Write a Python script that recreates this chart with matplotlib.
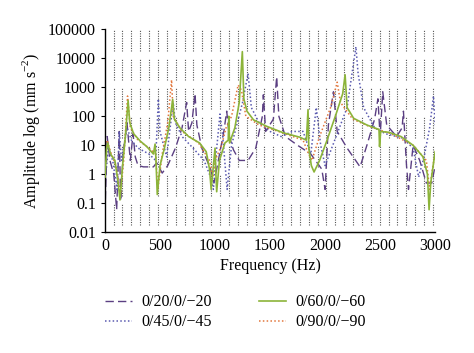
import numpy as np
import matplotlib
matplotlib.use("Agg")
import matplotlib.pyplot as plt

plt.rcParams['font.family'] = ['Liberation Serif', 'DejaVu Serif']
plt.rcParams['mathtext.fontset'] = 'custom'
plt.rcParams['mathtext.rm'] = 'Liberation Serif'

labels = ["0/20/0/\u221220", "0/45/0/\u221245", "0/60/0/\u221260", "0/90/0/\u221290"]

f20 = [0, 20, 45, 80, 106, 130, 142, 165, 200, 230, 255, 275, 300, 350, 440, 470, 520, 570, 640, 700,
       742, 760, 790, 818, 835, 880, 960, 990, 1030, 1080, 1106, 1130, 1167, 1220, 1300, 1370, 1430,
       1439, 1460, 1530, 1560, 1580, 1640, 1750, 1870, 1970, 2000, 2030, 2076, 2110, 2200, 2318, 2380,
       2450, 2480, 2500, 2524, 2560, 2650, 2700, 2712, 2740, 2758, 2800, 2860, 2920, 2970, 3000]
a20 = [0.05, 20, 3, 1, 0.06, 30, 0.12, 5, 60, 3, 25, 4, 2, 1.8, 1.8, 2.5, 1.1, 2, 8, 40,
       300, 30, 60, 600, 50, 8, 1.5, 0.5, 3, 30, 150, 20, 7, 3, 3, 8, 100,
       550, 30, 80, 2300, 100, 20, 10, 5, 1.5, 0.3, 50, 700, 30, 8, 1.8, 10,
       80, 400, 20, 700, 50, 20, 40, 150, 2, 0.3, 10, 3, 0.5, 0.5, 2]

f45 = [0, 30, 70, 110, 130, 150, 200, 240, 300, 400, 460, 485, 500, 560, 620, 640, 700, 800, 900,
       960, 985, 1010, 1045, 1070, 1110, 1150, 1250, 1300, 1330, 1400, 1500, 1600, 1700, 1800, 1870,
       1920, 1960, 2000, 2100, 2200, 2280, 2300, 2350, 2450, 2550, 2700, 2800, 2850, 2900, 2950, 2985, 3000]
a45 = [0.5, 8, 3, 0.3, 30, 3, 40, 15, 8, 5, 3, 400, 30, 4, 300, 60, 20, 8, 3,
       0.8, 0.3, 5, 120, 20, 0.3, 10, 300, 3000, 200, 60, 30, 20, 30, 30, 5,
       200, 10, 2, 20, 200, 25000, 3000, 200, 40, 25, 18, 8, 0.8, 4, 40, 500, 50]

f60 = [0, 15, 25, 50, 90, 120, 136, 160, 185, 210, 225, 260, 320, 380, 440, 455, 462, 475, 500, 540,
       580, 615, 630, 680, 760, 860, 920, 950, 965, 985, 1000, 1008, 1015, 1040, 1090, 1120, 1125, 1132,
       1180, 1220, 1248, 1262, 1290, 1350, 1470, 1620, 1770, 1830, 1845, 1852, 1875, 1900, 1950, 2015,
       2100, 2160, 2182, 2200, 2260, 2380, 2490, 2495, 2505, 2580, 2690, 2800, 2890, 2930, 2945, 2960, 3000]
a60 = [0.8, 8, 12, 5, 3, 0.5, 0.13, 2, 20, 350, 60, 25, 14, 9, 5, 11, 4, 0.2, 2, 8,
       40, 380, 80, 40, 20, 12, 6, 1.5, 0.3, 2, 8, 1, 0.25, 3, 12, 15, 100, 12,
       40, 300, 17000, 400, 150, 75, 45, 27, 19, 15, 170, 8, 2, 1.2, 3, 14,
       120, 600, 2700, 200, 85, 50, 35, 9, 30, 28, 20, 10, 4, 1, 0.06, 0.5, 6]

f90 = [0, 20, 50, 100, 140, 170, 205, 230, 300, 400, 460, 480, 520, 570, 605, 620, 700, 850, 950,
       980, 1000, 1060, 1100, 1150, 1210, 1240, 1280, 1400, 1600, 1800, 1850, 1880, 1950, 2050, 2110,
       2140, 2250, 2400, 2600, 2800, 2920, 2950, 2980, 3000]
a90 = [5, 15, 6, 2, 0.2, 3, 500, 40, 15, 8, 5, 0.3, 5, 60, 1800, 100, 30, 12, 3,
       0.8, 3, 10, 40, 100, 1200, 800, 100, 50, 28, 15, 5, 3, 20, 200, 1500,
       300, 80, 45, 25, 10, 3, 0.3, 2, 5]

y_ticks = [0.01, 0.1, 1, 10, 100, 1000, 10000, 100000]
y_ticklabels = ["0.01", "0.1", "1", "10", "100", "1000", "10000", "100000"]
x_ticks = [0, 500, 1000, 1500, 2000, 2500, 3000]

fig = plt.figure(figsize=(4.74, 3.53), dpi=100)
ax = fig.add_axes([0.2215, 0.342, 0.6965, 0.575])

# vertical dotted gridlines, broken just above each decade
grid_x = np.linspace(78, 2980, 37)
for d in range(-2, 5):
    ax.vlines(grid_x, 10 ** (d + 0.25), 10 ** (d + 1), colors='#555555',
              linestyles=(0, (1, 1.2)), linewidth=0.8, zorder=0.5)

ax.plot(f20, a20, color='#5b3f82', linestyle=(0, (6, 3)), linewidth=1.0, label=labels[0], zorder=2)
ax.plot(f45, a45, color='#5a5ab0', linestyle=(0, (1, 1.5)), linewidth=1.1, label=labels[1], zorder=2)
ax.plot(f60, a60, color='#8cb43a', linestyle='-', linewidth=1.2, label=labels[2], zorder=3)
ax.plot(f90, a90, color='#e2763c', linestyle=(0, (1, 1.5)), linewidth=1.1, label=labels[3], zorder=2)

ax.set_yscale('log')
ax.set_ylim(0.01, 100000)
ax.set_xlim(0, 3000)
ax.set_yticks(y_ticks)
ax.set_yticklabels(y_ticklabels)
ax.yaxis.set_minor_locator(matplotlib.ticker.NullLocator())
ax.set_xticks(x_ticks)
ax.tick_params(axis='both', labelsize=11.5, length=3, width=0.8, color='black')
ax.tick_params(axis='x', length=0, pad=4)
for s in ['top', 'right']:
    ax.spines[s].set_visible(False)
for s in ['left', 'bottom']:
    ax.spines[s].set_linewidth(1.0)

ax.set_xlabel("Frequency (Hz)", fontsize=11.5, labelpad=3)
ax.set_ylabel("Amplitude log (mm s$^{-2}$)", fontsize=11.5, labelpad=4)

fig.legend(loc='upper left', bbox_to_anchor=(0.2215, 0.166), ncol=2, frameon=False,
           fontsize=11.5, handlelength=1.7, columnspacing=3.0, labelspacing=0.25,
           handletextpad=0.55, borderpad=0, borderaxespad=0)

fig.savefig("out.png", dpi=100)
